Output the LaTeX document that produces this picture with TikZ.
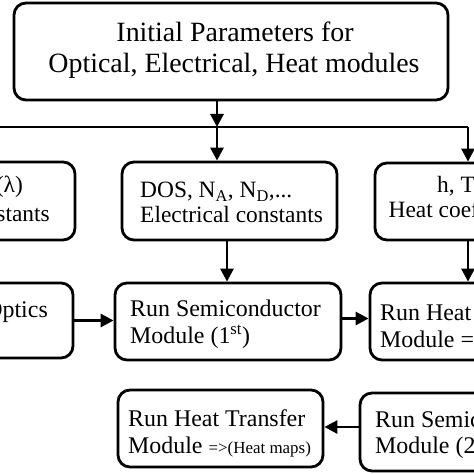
\documentclass[tikz,border=0pt]{standalone}
\usepackage{fontspec}
\setmainfont{Liberation Serif}
\usetikzlibrary{arrows.meta}
\begin{document}
\begin{tikzpicture}[x=1bp,y=-1bp,
  box/.style={draw, line width=2.8bp, rounded corners=12bp, inner sep=0pt, fill=white},
  arr/.style={line width=2.8bp, -{Triangle[length=13bp,width=13bp]}},
  plain/.style={line width=2.8bp},
  txt/.style={inner sep=0pt, anchor=base west, font=\fontsize{24}{26}\selectfont},
  txtc/.style={inner sep=0pt, anchor=base, font=\fontsize{23.5}{26}\selectfont},
  bigtxt/.style={inner sep=0pt, anchor=base, font=\fontsize{28}{30}\selectfont},
]
\path[use as bounding box] (0,0) rectangle (474,474);
\clip (0,0) rectangle (474,474);
\fill[white] (0,0) rectangle (474,474);

% boxes
\node[box, minimum width=434bp, minimum height=97bp] (top) at (231,51.5) {};
\node[box, minimum width=212bp, minimum height=78bp] (r2L) at (-31,201) {};
\node[box, minimum width=215bp, minimum height=78bp] (r2C) at (229.5,201) {};
\node[box, minimum width=186bp, minimum height=77bp] (r2R) at (468,201.5) {};
\node[box, minimum width=215bp, minimum height=75bp] (r3L) at (-34.5,320.5) {};
\node[box, minimum width=226bp, minimum height=77bp] (r3C) at (228,321.5) {};
\node[box, minimum width=220bp, minimum height=77bp] (r3R) at (480,321.5) {};
\node[box, minimum width=205bp, minimum height=77bp] (r4C) at (220.5,428.5) {};
\node[box, minimum width=220bp, minimum height=78bp] (r4R) at (470,432) {};

% texts
\node[bigtxt] (t1) at (235,42) {Initial Parameters for};
\node[bigtxt] (t2) at (234,73) {Optical, Electrical, Heat modules};

\node[txtc, anchor=base east] (l1) at (23,193) {n(λ), k(λ)};
\node[txtc, anchor=base east] (l2) at (50,222) {Optical constants};

\node[txtc, anchor=base west] (c1) at (140,198) {DOS, N\textsubscript{A}, N\textsubscript{D},...};
\node[txtc, anchor=base west] (c2) at (140,223) {Electrical constants};

\node[txtc, anchor=base west] (h1) at (437,193) {h, T\textsubscript{amb},...};
\node[txtc] (h2) at (468,218) {Heat coefficients};

\node[txt, anchor=base east] (o1) at (48,317) {Run Optics};

\node[txt] (s1) at (130,316) {Run Semiconductor};
\node[txt] (s2) at (130,343) {Module (1\textsuperscript{st})};

\node[txt] (ht1) at (380,320) {Run Heat Transfer};
\node[txt] (ht2) at (380,347) {Module =>(Temperature)};

\node[txt] (hm1) at (128,426) {Run Heat Transfer};
\node[txt] (hm2) at (128,453) {Module {\fontsize{17}{19}\selectfont=>(Heat maps)}};

\node[txt] (s21) at (375,427) {Run Semiconductor};
\node[txt] (s22) at (375,453) {Module (2\textsuperscript{nd})};

% connectors
\coordinate (j1) at (217,127);
\coordinate (jL) at (-10,127);
\coordinate (jR) at (468,127);
\draw[arr] (top.south -| j1) -- (j1);
\draw[plain] (jL) -- (jR);
\draw[arr] (j1) -- (j1 |- r2C.north);
\draw[arr] (jR) -- (jR |- r2R.north);
\draw[arr] ([xshift=-2.5bp]r2C.south) -- ([xshift=-2.5bp]r2C.south |- r3C.north);
\draw[arr] (r2R.south) -- (r2R.south |- r3R.north);
\draw[arr] (r3L.east) -- (r3L.east -| r3C.west);
\draw[arr] ([yshift=3bp]r3C.east) -- ([yshift=3bp]r3C.east -| r3R.west);
\draw[arr] ([yshift=5bp]r4R.west) -- ([yshift=5bp]r4R.west -| r4C.east);
\end{tikzpicture}
\end{document}
